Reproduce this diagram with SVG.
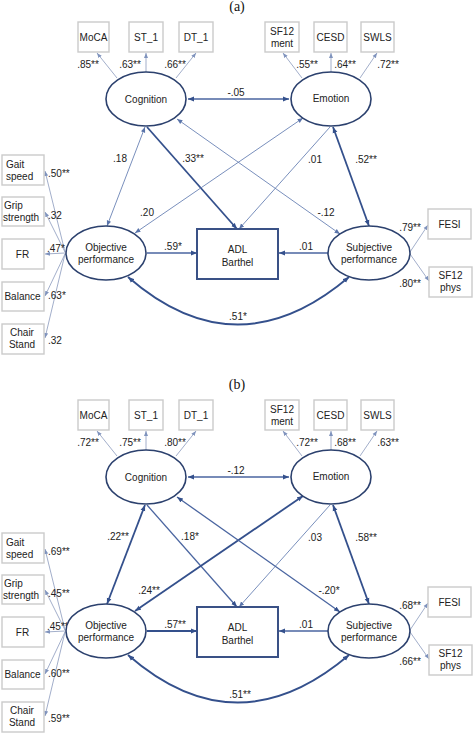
<svg xmlns="http://www.w3.org/2000/svg" width="474" height="733" viewBox="0 0 474 733">
<style>
text{font-family:"Liberation Sans",Arial,sans-serif;font-size:10px;fill:#222}
.c{text-anchor:middle}
.s{text-anchor:start}
.title{font-family:"Liberation Serif",serif;font-size:14px;text-anchor:middle;fill:#111}
.ind{fill:#fff;stroke:#cbcbcb;stroke-width:1.4}
.lat{fill:#fff;stroke:#2c416e;stroke-width:1.6}
.adl{fill:#fff;stroke:#3a5186;stroke-width:2}
.load{stroke:#97a5c4;stroke-width:0.9;fill:none;marker-end:url(#al)}
.thin{stroke:#6a82b4;stroke-width:0.9;fill:none}
.med{stroke:#4a65a0;stroke-width:1.3;fill:none}
.thick{stroke:#34508c;stroke-width:1.8;fill:none}
.thin.e{marker-end:url(#am)}
.thin.d{marker-start:url(#am);marker-end:url(#am)}
.med.e,.thick.e{marker-end:url(#ad)}
.med.d,.thick.d{marker-start:url(#ad);marker-end:url(#ad)}
</style>
<defs>
<marker id="ad" viewBox="0 0 10 10" refX="10" refY="5" markerWidth="6" markerHeight="6" markerUnits="userSpaceOnUse" orient="auto-start-reverse"><path d="M0,1 L10,5 L0,9 z" fill="#34508c"/></marker>
<marker id="am" viewBox="0 0 10 10" refX="10" refY="5" markerWidth="5.5" markerHeight="5.5" markerUnits="userSpaceOnUse" orient="auto-start-reverse"><path d="M0,1 L10,5 L0,9 z" fill="#5a74aa"/></marker>
<marker id="al" viewBox="0 0 10 10" refX="10" refY="5" markerWidth="5" markerHeight="5" markerUnits="userSpaceOnUse" orient="auto-start-reverse"><path d="M0,1 L10,5 L0,9 z" fill="#7f93bd"/></marker>
</defs>
<rect width="474" height="733" fill="#fff"/>

<!-- ================= PANEL A ================= -->
<g id="panel-a">
<text class="title" x="237" y="11">(a)</text>
<g id="a-connectors">
<line class="load" x1="117" y1="78" x2="97" y2="53"/>
<line class="load" x1="146" y1="72" x2="146" y2="53"/>
<line class="load" x1="176" y1="78" x2="196" y2="53"/>
<line class="load" x1="302" y1="78" x2="283" y2="53"/>
<line class="load" x1="331" y1="72" x2="331" y2="53"/>
<line class="load" x1="360" y1="78" x2="377" y2="53"/>
<line class="load" x1="65" y1="252" x2="45" y2="171"/>
<line class="load" x1="65" y1="252" x2="45" y2="212"/>
<line class="load" x1="65" y1="253" x2="45" y2="254"/>
<line class="load" x1="65" y1="254" x2="45" y2="296"/>
<line class="load" x1="65" y1="254" x2="45" y2="338"/>
<line class="load" x1="410" y1="252" x2="428" y2="225"/>
<line class="load" x1="410" y1="254" x2="429" y2="281"/>
<line class="med d" x1="188" y1="99" x2="289" y2="99"/>
<line class="thin d" x1="145" y1="127" x2="107" y2="226"/>
<line class="thick e" x1="147" y1="127" x2="237" y2="229"/>
<line class="thin d" x1="303" y1="118" x2="135" y2="233"/>
<line class="thin e" x1="330" y1="127" x2="239" y2="229"/>
<line class="thick d" x1="333" y1="127" x2="369" y2="226"/>
<line class="thin d" x1="177" y1="119" x2="340" y2="234"/>
<line class="med e" x1="147" y1="253" x2="197" y2="253"/>
<line class="med e" x1="328" y1="253" x2="279" y2="253"/>
<path class="thick d" d="M128,277 Q237,372 349,277"/>
<text class="c" x="88" y="68">.85**</text>
<text class="c" x="130" y="68">.63**</text>
<text class="c" x="175" y="68">.66**</text>
<text class="c" x="307" y="68">.55**</text>
<text class="c" x="345" y="68">.64**</text>
<text class="c" x="388" y="68">.72**</text>
<text class="s" x="48" y="177">.50**</text>
<text class="s" x="48" y="219">.32</text>
<text class="s" x="47" y="252">.47*</text>
<text class="s" x="48" y="299">.63*</text>
<text class="s" x="48" y="344">.32</text>
<text class="c" x="410" y="231">.79**</text>
<text class="c" x="410" y="287">.80**</text>
<text class="c" x="236" y="96">-.05</text>
<text class="c" x="120" y="162">.18</text>
<text class="c" x="193" y="162">.33**</text>
<text class="c" x="315" y="163">.01</text>
<text class="c" x="366" y="163">.52**</text>
<text class="c" x="147" y="216">.20</text>
<text class="c" x="326" y="216">-.12</text>
<text class="c" x="173" y="250">.59*</text>
<text class="c" x="306" y="250">.01</text>
<text class="c" x="238" y="320">.51*</text>
</g>
<g id="a-moca"><rect class="ind" x="78" y="22" width="31" height="30"/><text class="c" x="93.5" y="40.5">MoCA</text></g>
<g id="a-st1"><rect class="ind" x="129" y="22" width="34" height="30"/><text class="c" x="146" y="40.5">ST_1</text></g>
<g id="a-dt1"><rect class="ind" x="179" y="22" width="34" height="30"/><text class="c" x="196" y="40.5">DT_1</text></g>
<g id="a-sf12ment"><rect class="ind" x="265" y="22" width="34" height="30"/><text class="c" x="282" y="35">SF12</text><text class="c" x="282" y="47">ment</text></g>
<g id="a-cesd"><rect class="ind" x="314" y="22" width="33" height="30"/><text class="c" x="330.5" y="40.5">CESD</text></g>
<g id="a-swls"><rect class="ind" x="361" y="22" width="33" height="30"/><text class="c" x="377.5" y="40.5">SWLS</text></g>
<g id="a-cognition"><ellipse class="lat" cx="146" cy="99" rx="40" ry="27"/><text class="c" x="146" y="102.5">Cognition</text></g>
<g id="a-emotion"><ellipse class="lat" cx="331" cy="99" rx="40" ry="27"/><text class="c" x="331" y="102">Emotion</text></g>
<g id="a-gait"><rect class="ind" x="2" y="155" width="42" height="30"/><text class="s" x="6" y="168">Gait</text><text class="s" x="6" y="180">speed</text></g>
<g id="a-grip"><rect class="ind" x="2" y="197" width="42" height="29"/><text class="s" x="4" y="209">Grip</text><text class="s" x="3" y="221">strength</text></g>
<g id="a-fr"><rect class="ind" x="2" y="239" width="42" height="30"/><text class="c" x="22.5" y="257.5">FR</text></g>
<g id="a-balance"><rect class="ind" x="2" y="282" width="42" height="29"/><text class="c" x="22.5" y="300">Balance</text></g>
<g id="a-chair"><rect class="ind" x="2" y="324" width="42" height="30"/><text class="c" x="22" y="336">Chair</text><text class="c" x="22" y="348">Stand</text></g>
<g id="a-objective"><ellipse class="lat" cx="106" cy="253" rx="40" ry="27"/><text class="c" x="106" y="251">Objective</text><text class="c" x="106" y="263">performance</text></g>
<g id="a-adl"><rect class="adl" x="197" y="229" width="81" height="50"/><text class="c" x="237.5" y="252.5">ADL</text><text class="c" x="237.5" y="265.5">Barthel</text></g>
<g id="a-subjective"><ellipse class="lat" cx="369" cy="253" rx="41" ry="27"/><text class="c" x="369" y="251">Subjective</text><text class="c" x="369" y="263">performance</text></g>
<g id="a-fesi"><rect class="ind" x="428" y="209" width="43" height="30"/><text class="c" x="449.5" y="227.5">FESI</text></g>
<g id="a-sf12phys"><rect class="ind" x="429" y="267" width="43" height="30"/><text class="c" x="450.5" y="279">SF12</text><text class="c" x="450.5" y="291">phys</text></g>
</g>

<!-- ================= PANEL B ================= -->
<g id="panel-b" transform="translate(0,378)">
<text class="title" x="237" y="11">(b)</text>
<g id="b-connectors">
<line class="load" x1="117" y1="78" x2="97" y2="53"/>
<line class="load" x1="146" y1="72" x2="146" y2="53"/>
<line class="load" x1="176" y1="78" x2="196" y2="53"/>
<line class="load" x1="302" y1="78" x2="283" y2="53"/>
<line class="load" x1="331" y1="72" x2="331" y2="53"/>
<line class="load" x1="360" y1="78" x2="377" y2="53"/>
<line class="load" x1="65" y1="252" x2="45" y2="171"/>
<line class="load" x1="65" y1="252" x2="45" y2="212"/>
<line class="load" x1="65" y1="253" x2="45" y2="254"/>
<line class="load" x1="65" y1="254" x2="45" y2="296"/>
<line class="load" x1="65" y1="254" x2="45" y2="338"/>
<line class="load" x1="410" y1="252" x2="428" y2="225"/>
<line class="load" x1="410" y1="254" x2="429" y2="281"/>
<line class="med d" x1="188" y1="99" x2="289" y2="99"/>
<line class="thick d" x1="145" y1="127" x2="107" y2="226"/>
<line class="med e" x1="147" y1="127" x2="237" y2="229"/>
<line class="thick d" x1="303" y1="118" x2="135" y2="233"/>
<line class="thin e" x1="330" y1="127" x2="239" y2="229"/>
<line class="thick d" x1="333" y1="127" x2="369" y2="226"/>
<line class="med d" x1="177" y1="119" x2="340" y2="234"/>
<line class="thick e" x1="147" y1="253" x2="197" y2="253"/>
<line class="med e" x1="328" y1="253" x2="279" y2="253"/>
<path class="thick d" d="M128,277 Q237,372 349,277"/>
<text class="c" x="88" y="68">.72**</text>
<text class="c" x="130" y="68">.75**</text>
<text class="c" x="175" y="68">.80**</text>
<text class="c" x="307" y="68">.72**</text>
<text class="c" x="345" y="68">.68**</text>
<text class="c" x="388" y="68">.63**</text>
<text class="s" x="48" y="177">.69**</text>
<text class="s" x="48" y="219">.45**</text>
<text class="s" x="47" y="252">.45**</text>
<text class="s" x="48" y="299">.60**</text>
<text class="s" x="48" y="344">.59**</text>
<text class="c" x="410" y="231">.68**</text>
<text class="c" x="410" y="287">.66**</text>
<text class="c" x="236" y="96">-.12</text>
<text class="c" x="118" y="162">.22**</text>
<text class="c" x="190" y="162">.18*</text>
<text class="c" x="315" y="163">.03</text>
<text class="c" x="366" y="163">.58**</text>
<text class="c" x="149" y="216">.24**</text>
<text class="c" x="329" y="216">-.20*</text>
<text class="c" x="175" y="250">.57**</text>
<text class="c" x="306" y="250">.01</text>
<text class="c" x="240" y="320">.51**</text>
</g>
<g id="b-moca"><rect class="ind" x="78" y="22" width="31" height="30"/><text class="c" x="93.5" y="40.5">MoCA</text></g>
<g id="b-st1"><rect class="ind" x="129" y="22" width="34" height="30"/><text class="c" x="146" y="40.5">ST_1</text></g>
<g id="b-dt1"><rect class="ind" x="179" y="22" width="34" height="30"/><text class="c" x="196" y="40.5">DT_1</text></g>
<g id="b-sf12ment"><rect class="ind" x="265" y="22" width="34" height="30"/><text class="c" x="282" y="35">SF12</text><text class="c" x="282" y="47">ment</text></g>
<g id="b-cesd"><rect class="ind" x="314" y="22" width="33" height="30"/><text class="c" x="330.5" y="40.5">CESD</text></g>
<g id="b-swls"><rect class="ind" x="361" y="22" width="33" height="30"/><text class="c" x="377.5" y="40.5">SWLS</text></g>
<g id="b-cognition"><ellipse class="lat" cx="146" cy="99" rx="40" ry="27"/><text class="c" x="146" y="102.5">Cognition</text></g>
<g id="b-emotion"><ellipse class="lat" cx="331" cy="99" rx="40" ry="27"/><text class="c" x="331" y="102">Emotion</text></g>
<g id="b-gait"><rect class="ind" x="2" y="155" width="42" height="30"/><text class="s" x="6" y="168">Gait</text><text class="s" x="6" y="180">speed</text></g>
<g id="b-grip"><rect class="ind" x="2" y="197" width="42" height="29"/><text class="s" x="4" y="209">Grip</text><text class="s" x="3" y="221">strength</text></g>
<g id="b-fr"><rect class="ind" x="2" y="239" width="42" height="30"/><text class="c" x="22.5" y="257.5">FR</text></g>
<g id="b-balance"><rect class="ind" x="2" y="282" width="42" height="29"/><text class="c" x="22.5" y="300">Balance</text></g>
<g id="b-chair"><rect class="ind" x="2" y="324" width="42" height="30"/><text class="c" x="22" y="336">Chair</text><text class="c" x="22" y="348">Stand</text></g>
<g id="b-objective"><ellipse class="lat" cx="106" cy="253" rx="40" ry="27"/><text class="c" x="106" y="251">Objective</text><text class="c" x="106" y="263">performance</text></g>
<g id="b-adl"><rect class="adl" x="197" y="229" width="81" height="50"/><text class="c" x="237.5" y="252.5">ADL</text><text class="c" x="237.5" y="265.5">Barthel</text></g>
<g id="b-subjective"><ellipse class="lat" cx="369" cy="253" rx="41" ry="27"/><text class="c" x="369" y="251">Subjective</text><text class="c" x="369" y="263">performance</text></g>
<g id="b-fesi"><rect class="ind" x="428" y="209" width="43" height="30"/><text class="c" x="449.5" y="227.5">FESI</text></g>
<g id="b-sf12phys"><rect class="ind" x="429" y="267" width="43" height="30"/><text class="c" x="450.5" y="279">SF12</text><text class="c" x="450.5" y="291">phys</text></g>
</g>
</svg>
